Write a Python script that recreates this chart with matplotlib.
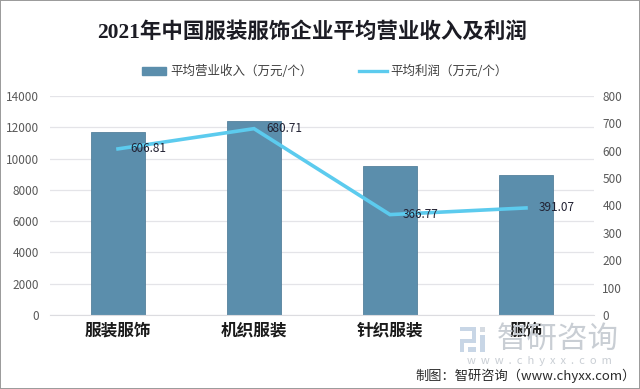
import matplotlib
matplotlib.use('Agg')
import matplotlib.pyplot as plt
from matplotlib.patches import Rectangle

plt.rcParams['font.family'] = ['Noto Sans CJK SC', 'DejaVu Sans']

categories = ['服装服饰', '机织服装', '针织服装', '服饰']
revenue = [11700, 12400, 9550, 8950]
profit = [606.81, 680.71, 366.77, 391.07]
profit_labels = ['606.81', '680.71', '366.77', '391.07']
left_ticks = [0, 2000, 4000, 6000, 8000, 10000, 12000, 14000]
right_ticks = [0, 100, 200, 300, 400, 500, 600, 700, 800]

W, H = 640, 389
fig = plt.figure(figsize=(W / 100, H / 100), dpi=100, facecolor='white')
L, R, T, B = 50, 594, 96, 315
ax = fig.add_axes([L / W, 1 - B / H, (R - L) / W, (B - T) / H])
ax2 = ax.twinx()
x = list(range(len(categories)))

ax.bar(x, revenue, width=0.395, color='#5b8eac', edgecolor='#55819c', linewidth=0.6, zorder=2, label='平均营业收入（万元/个）')
ax.set_xlim(-0.5, 3.5)
ax.set_ylim(0, 14000)
ax.set_yticks(left_ticks)
ax.set_xticks(x)
ax.set_xticklabels(categories, fontsize=12, fontweight='bold', color='#1a1a1a')
ax.tick_params(axis='x', length=0, pad=5)
ax.tick_params(axis='y', length=0, labelsize=8.5, labelcolor='#595959', pad=8)
ax.grid(axis='y', color='#e4e4e8', linewidth=0.9, zorder=0)
ax.set_axisbelow(True)

ax2.plot(x, profit, color='#5ccbee', linewidth=2.6, solid_joinstyle='miter', zorder=3, label='平均利润（万元/个）')
ax2.set_ylim(0, 800)
ax2.set_yticks(right_ticks)
ax2.tick_params(axis='y', length=0, labelsize=8.5, labelcolor='#595959', pad=6)
for a in (ax, ax2):
    for s in a.spines.values():
        s.set_visible(False)
ax.spines['bottom'].set_visible(True)
ax.spines['bottom'].set_color('#dcdce0')

for xi, yi, lab in zip(x, profit, profit_labels):
    ax2.annotate(lab, (xi, yi), xytext=(9, 0), textcoords='offset points', fontsize=8.5,
                 color='#222233', va='center', ha='left', zorder=5)

fig.text(312 / W, 1 - 33 / H, '2021年中国服装服饰企业平均营业收入及利润', fontsize=15.5, fontweight='bold',
         family=['Liberation Serif', 'Noto Sans CJK SC'], color='#1c1c24', ha='center', va='center')

# legend
fig.add_artist(Rectangle((142 / W, 1 - 75 / H), 24 / W, 8 / H, transform=fig.transFigure, color='#5b8eac'))
fig.text(170 / W, 1 - 71 / H, '平均营业收入（万元/个）', fontsize=9, color='#404040', va='center')
fig.add_artist(plt.Line2D([359 / W, 387 / W], [1 - 71 / H] * 2, transform=fig.transFigure, color='#5ccbee', linewidth=2.4))
fig.text(390 / W, 1 - 71 / H, '平均利润（万元/个）', fontsize=9, color='#404040', va='center')

# watermark
wm = '#c9ced4'
fig.text(558 / W, 1 - 339 / H, '智研咨询', fontsize=22, fontweight='light', color=wm, ha='center', va='center', zorder=1)
fig.text(539 / W, 1 - 361 / H, 'w  w  w  .  c  h  y  x  x  .  c  o  m', fontsize=8, color=wm, ha='center', va='center', zorder=1)
blue = '#c8d6e6'
for (a, b, c, d, col) in [(460, 327, 16, 4, blue), (472, 327, 4, 16, blue), (460, 339, 16, 4, blue),
                          (460, 339, 4, 13, blue), (468, 347, 8, 5, blue),
                          (480, 327, 5, 5, '#d5dbe2'), (480, 335, 5, 17, blue)]:
    fig.add_artist(Rectangle((a / W, 1 - (b + d) / H), c / W, d / H, transform=fig.transFigure, color=col, lw=0, zorder=1))

fig.text(636 / W, 1 - 376 / H, '制图：智研咨询（www.chyxx.com）', fontsize=9.5, color='#2a2a2a', ha='right', va='center', zorder=6)

# outer border
fig.add_artist(Rectangle((0, 0), 1, 1, transform=fig.transFigure, fill=False, edgecolor='#9a9a9a', linewidth=1.4))

fig.savefig('out.png', dpi=100)
